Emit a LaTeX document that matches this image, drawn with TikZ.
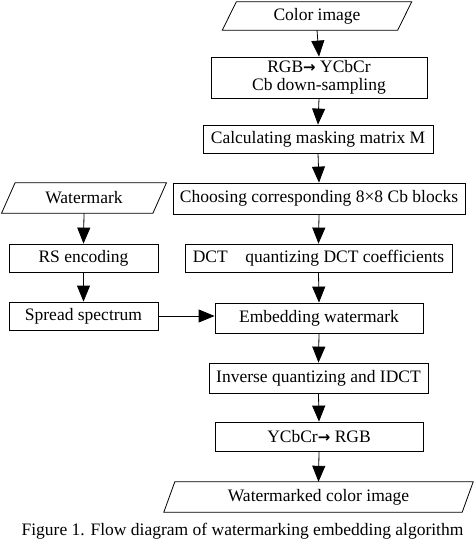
\documentclass[tikz,border=0pt]{standalone}
\usepackage{fontspec}
\setmainfont{Liberation Serif}
\newfontfamily\dvfont{DejaVu Sans}
\usetikzlibrary{arrows.meta,calc}
\newcommand{\bigarr}{{\dvfont\bfseries\fontsize{15}{15}\selectfont →}}
\begin{document}
\begin{tikzpicture}[x=1pt,y=-1pt,
  every node/.style={font=\fontsize{17.5}{18}\selectfont},
  box/.style={draw,line width=0.8pt,rectangle,inner sep=0pt,align=center},
  para/.style={rectangle,inner sep=0pt,align=center},
  arr/.style={line width=0.8pt,-{Triangle[length=16pt,width=13pt]}}]
\useasboundingbox (0,0) rectangle (474,543);
\newcommand{\parashape}[2]{%
  \draw[line width=0.8pt] ($(#1.south west)+(-#2/2,0)$) -- ($(#1.south east)+(-#2/2,0)$) -- ($(#1.north east)+(#2/2,0)$) -- ($(#1.north west)+(#2/2,0)$) -- cycle;}
\node[para,minimum width=175pt,minimum height=28pt] (ci) at (317,16) {Color image};
\parashape{ci}{14}
\node[box,minimum width=216pt,minimum height=41pt] (rgb) at (319,77.5) {RGB\bigarr{} YCbCr\\Cb down-sampling};
\node[box,minimum width=230pt,minimum height=28pt] (calc) at (318,139) {Calculating masking matrix M};
\node[box,minimum width=292pt,minimum height=31pt] (choose) at (319,198.5) {Choosing corresponding 8×8 Cb blocks};
\node[para,minimum width=151pt,minimum height=30pt] (wm) at (84,198) {Watermark};
\parashape{wm}{13.5}
\node[box,minimum width=149pt,minimum height=28pt] (rs) at (83.5,258) {RS encoding};
\node[box,minimum width=267pt,minimum height=28pt] (dct) at (318.5,258) {DCT\quad quantizing DCT coefficients};
\node[box,minimum width=149pt,minimum height=28pt] (ss) at (83.5,316) {Spread spectrum};
\node[box,minimum width=208pt,minimum height=30pt] (emb) at (319,318) {Embedding watermark};
\node[box,minimum width=219pt,minimum height=30pt] (inv) at (318.5,378) {Inverse quantizing and IDCT};
\node[box,minimum width=208pt,minimum height=29pt] (yc) at (319,436.5) {YCbCr\bigarr{} RGB};
\node[para,minimum width=298pt,minimum height=30pt] (out) at (318.5,497) {Watermarked color image};
\parashape{out}{11}
\node[inner sep=0pt] (cap) at (242.5,531) {Figure 1. Flow diagram of watermarking embedding algorithm};
\draw[arr] (ci.south) -- (rgb.north);
\draw[arr] (rgb.south) -- (calc.north);
\draw[arr] (calc.south) -- (choose.north);
\draw[arr] (choose.south) -- (dct.north);
\draw[arr] (dct.south) -- (emb.north);
\draw[arr] (emb.south) -- (inv.north);
\draw[arr] (inv.south) -- (yc.north);
\draw[arr] (yc.south) -- (out.north);
\draw[arr] (wm.south) -- (rs.north);
\draw[arr] (rs.south) -- (ss.north);
\draw[arr] (ss.east) -- (ss.east -| emb.west);
\end{tikzpicture}
\end{document}
